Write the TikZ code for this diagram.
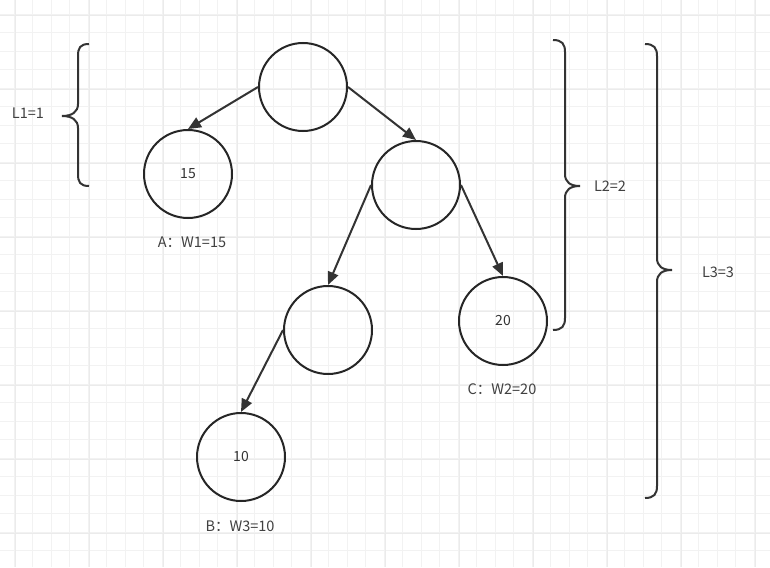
\documentclass[tikz,border=0pt]{standalone}
\usepackage{fontspec}
\setmainfont{Noto Sans CJK SC}
\usetikzlibrary{arrows.meta}
\begin{document}
\begin{tikzpicture}[x=1pt,y=-1pt,
  nd/.style={draw=black!85,line width=2pt,circle,minimum size=88pt,inner sep=0pt,font=\fontsize{14}{16}\selectfont,text=black!80},
  ed/.style={draw=black!80,line width=2pt,-{Triangle[length=13pt,width=11pt]}},
  br/.style={draw=black!80,line width=2pt},
  lb/.style={font=\fontsize{14.5}{16}\selectfont,text=black!75}]
\useasboundingbox (0,0) rectangle (770,567);
\fill[white] (0,0) rectangle (770,567);
\foreach \i in {0,...,42} {\draw[black!5,line width=0.9pt] (14+18.5*\i,0) -- (14+18.5*\i,567);}
\foreach \i in {0,...,31} {\draw[black!5,line width=0.9pt] (0,14+18.5*\i) -- (770,14+18.5*\i);}
\foreach \i in {0,...,10} {\draw[black!8,line width=0.9pt] (15+74*\i,0) -- (15+74*\i,567);}
\foreach \i in {0,...,7} {\draw[black!8,line width=0.9pt] (0,15+74*\i) -- (770,15+74*\i);}
\node[nd] (root) at (303,87) {};
\node[nd] (a) at (188,174) {15};
\node[nd] (r) at (416,185) {};
\node[nd] (m) at (328,330) {};
\node[nd] (c) at (503,321) {20};
\node[nd] (b) at (241,457) {10};
\draw[ed] (root.west) -- (a.north);
\draw[ed] (root.east) -- (r.north);
\draw[ed] (r.west) -- (m.north);
\draw[ed] (r.east) -- (c.north);
\draw[ed] (m.west) -- (b.north);
\node[lb] (la) at (192,242) {A：W1=15};
\node[lb] (lc) at (502,389) {C：W2=20};
\node[lb] (lbb) at (240,526) {B：W3=10};
% braces
\draw[br] (89,44) .. controls (80,44) and (78,48) .. (78,56) -- (78,104) .. controls (78,112) and (72,116) .. (62,116)
  .. controls (72,116) and (78,120) .. (78,128) -- (78,174) .. controls (78,182) and (80,186) .. (89,186);
\node[lb] (l1) at (28,113) {L1=1};
\draw[br] (553,40) .. controls (562,40) and (565,44) .. (565,52) -- (565,174) .. controls (565,182) and (570,186) .. (580,186)
  .. controls (570,186) and (565,190) .. (565,198) -- (565,318) .. controls (565,326) and (562,330) .. (553,330);
\node[lb] (l2) at (610,186) {L2=2};
\draw[br] (645,44) .. controls (654,44) and (657,48) .. (657,56) -- (657,258) .. controls (657,266) and (662,270) .. (672,270)
  .. controls (662,270) and (657,274) .. (657,282) -- (657,486) .. controls (657,494) and (654,498) .. (645,498);
\node[lb] (l3) at (718,272) {L3=3};
\end{tikzpicture}
\end{document}
